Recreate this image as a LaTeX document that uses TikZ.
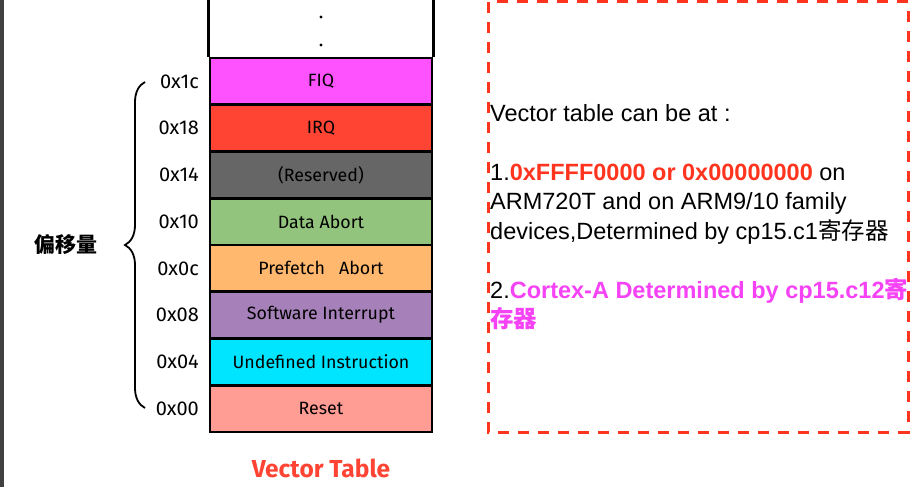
\documentclass[tikz,border=0pt]{standalone}
\usepackage{fontspec}
\setmainfont{Liberation Sans}
\newfontfamily\cjk{Noto Sans CJK SC}
\newfontfamily\comic{Fira Sans}
\usepackage{tikz}
\usetikzlibrary{calc}
\usetikzlibrary{positioning}
\usetikzlibrary{decorations.pathreplacing}
\definecolor{FiqC}{RGB}{255,82,255}
\definecolor{IrqC}{RGB}{255,68,51}
\definecolor{ResvC}{RGB}{102,102,102}
\definecolor{DabtC}{RGB}{147,196,125}
\definecolor{PabtC}{RGB}{255,184,110}
\definecolor{SwiC}{RGB}{166,128,184}
\definecolor{UndC}{RGB}{0,229,255}
\definecolor{RstC}{RGB}{255,156,148}
\definecolor{NoteRed}{RGB}{255,52,30}
\definecolor{NoteMag}{RGB}{245,66,245}
\definecolor{FrameC}{RGB}{64,64,64}

\begin{document}
\begin{tikzpicture}[x=1pt,y=-1pt,
	cell/.style={draw=black,line width=2.6pt,minimum width=222pt,minimum height=46.75pt,inner sep=0pt,font=\comic\fontsize{17.8}{17.8}\selectfont},
	offset/.style={inner sep=0pt,font=\comic\fontsize{20}{20}\selectfont}]

\useasboundingbox (0,0) rectangle (915,487);
\fill[FrameC] (0,0) rectangle (4,487);

% vector table, from 0x00 upwards
\foreach \name/\col/\txt/\addr [count=\i] in {rst/RstC/Reset/0x00, und/UndC/Undefined Instruction/0x04, swi/SwiC/Software Interrupt/0x08, pabt/PabtC/{Prefetch\ \ \ Abort}/0x0c, dabt/DabtC/Data Abort/0x10, resv/ResvC/(Reserved)/0x14, irq/IrqC/IRQ/0x18, fiq/FiqC/FIQ/0x1c}{
	\node[cell,fill=\col] (\name) at (321,{408.6-(\i-1)*46.75}) {\txt};
	\node[offset,anchor=east] (o\name) at (199,{408.6-(\i-1)*46.75}) {\addr};
}
\draw[line width=2.6pt] (fiq.north west) -- ++(0,-62);
\draw[line width=2.6pt] (fiq.north east) -- ++(0,-62);
\fill (321,17) circle (1.6pt);
\fill (321,45) circle (1.6pt);

\node[font=\comic\bfseries\fontsize{24.5}{24.5}\selectfont,text=IrqC] (title) at (321,468) {Vector Table};

% offset brace
\coordinate (bb) at (145,408);
\coordinate (bt) at (145,82);
\draw[line width=1.8pt,decorate,decoration={brace,amplitude=20pt}] (bb) -- (bt);
\node[font=\cjk\bfseries\fontsize{21}{21}\selectfont] (shift) at (66,245) {偏移量};

% note box
\draw[NoteRed,line width=3pt,dash pattern=on 11pt off 9pt] (488,2) rectangle (908,432);
\node[anchor=north west,inner sep=0pt,align=left,font=\fontsize{23.5}{29.5}\selectfont] (note) at (490,104) {Vector table can be at :\\[29.5pt]
	1.{\bfseries\color{NoteRed}0xFFFF0000 or 0x00000000} on\\
	ARM720T and on ARM9/10 family\\
	devices,Determined by cp15.c1{\cjk 寄存器}\\[29.5pt]
	2.{\bfseries\color{NoteMag}Cortex-A Determined by cp15.c12{\cjk 寄}}\\
	{\bfseries\color{NoteMag}\cjk 存器}};

\end{tikzpicture}
\end{document}
